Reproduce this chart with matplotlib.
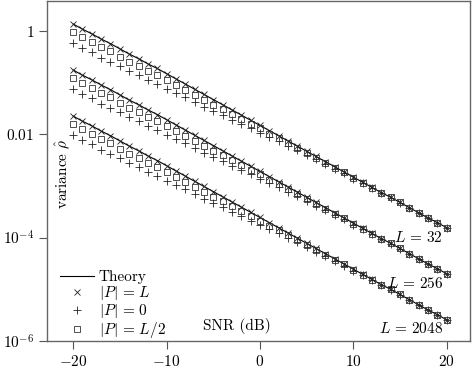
import matplotlib
matplotlib.use("Agg")
import matplotlib.pyplot as plt
import numpy as np
from matplotlib.ticker import FixedLocator, FixedFormatter, NullLocator

plt.rcParams['mathtext.fontset'] = 'cm'
plt.rcParams['font.family'] = ['cmr10', 'DejaVu Serif']
plt.rcParams['axes.formatter.use_mathtext'] = True

snr_db = list(range(-20, 21))

# log10 of variance, theory (x markers lie on the theory curves)
theory_32 = [0.13, 0.03, -0.06, -0.16, -0.25, -0.35, -0.45, -0.54, -0.64, -0.73, -0.83,
             -0.93, -1.03, -1.13, -1.23, -1.33, -1.43, -1.53, -1.63, -1.73, -1.83,
             -1.93, -2.03, -2.13, -2.23, -2.33, -2.43, -2.53, -2.63, -2.73, -2.83,
             -2.93, -3.03, -3.13, -3.22, -3.32, -3.42, -3.52, -3.62, -3.71, -3.81]
theory_256 = [-0.76, -0.86, -0.95, -1.05, -1.14, -1.24, -1.34, -1.43, -1.53, -1.62, -1.72,
              -1.82, -1.92, -2.02, -2.12, -2.22, -2.32, -2.42, -2.52, -2.62, -2.72,
              -2.82, -2.92, -3.02, -3.12, -3.22, -3.32, -3.42, -3.52, -3.62, -3.72,
              -3.82, -3.92, -4.02, -4.11, -4.21, -4.31, -4.41, -4.51, -4.60, -4.70]
theory_2048 = [-1.65, -1.75, -1.84, -1.94, -2.03, -2.13, -2.23, -2.32, -2.42, -2.51, -2.61,
               -2.71, -2.81, -2.91, -3.01, -3.11, -3.21, -3.31, -3.41, -3.51, -3.61,
               -3.71, -3.81, -3.91, -4.01, -4.11, -4.21, -4.31, -4.41, -4.51, -4.61,
               -4.71, -4.81, -4.91, -5.00, -5.10, -5.20, -5.30, -5.40, -5.49, -5.59]

# |P| = L  (x markers)
full_32 = theory_32
full_256 = theory_256
full_2048 = theory_2048

# |P| = 0  (+ markers)
zero_32 = [-0.24, -0.34, -0.42, -0.52, -0.60, -0.69, -0.78, -0.86, -0.95, -1.03, -1.12,
           -1.21, -1.29, -1.38, -1.47, -1.55, -1.63, -1.72, -1.80, -1.89, -1.97,
           -2.06, -2.14, -2.23, -2.31, -2.40, -2.49, -2.58, -2.67, -2.76, -2.86,
           -2.95, -3.05, -3.14, -3.23, -3.33, -3.42, -3.52, -3.62, -3.71, -3.81]
zero_256 = [-1.13, -1.23, -1.31, -1.41, -1.49, -1.58, -1.67, -1.75, -1.84, -1.92, -2.01,
            -2.10, -2.18, -2.27, -2.36, -2.44, -2.52, -2.61, -2.69, -2.78, -2.86,
            -2.95, -3.03, -3.12, -3.20, -3.29, -3.38, -3.47, -3.56, -3.65, -3.75,
            -3.84, -3.94, -4.03, -4.12, -4.22, -4.31, -4.41, -4.51, -4.60, -4.70]
zero_2048 = [-2.02, -2.12, -2.20, -2.30, -2.38, -2.47, -2.56, -2.64, -2.73, -2.81, -2.90,
             -2.99, -3.07, -3.16, -3.25, -3.33, -3.41, -3.50, -3.58, -3.67, -3.75,
             -3.84, -3.92, -4.01, -4.09, -4.18, -4.27, -4.36, -4.45, -4.54, -4.64,
             -4.73, -4.83, -4.92, -5.01, -5.11, -5.20, -5.30, -5.40, -5.49, -5.59]

# |P| = L/2  (square markers)
half_32 = [-0.03, -0.13, -0.22, -0.32, -0.40, -0.50, -0.60, -0.68, -0.78, -0.86, -0.96,
           -1.05, -1.15, -1.24, -1.33, -1.43, -1.52, -1.61, -1.71, -1.80, -1.89,
           -1.99, -2.08, -2.17, -2.27, -2.36, -2.46, -2.55, -2.65, -2.74, -2.84,
           -2.94, -3.04, -3.13, -3.22, -3.32, -3.42, -3.52, -3.62, -3.71, -3.81]
half_256 = [-0.92, -1.02, -1.11, -1.21, -1.29, -1.39, -1.49, -1.57, -1.67, -1.75, -1.85,
            -1.94, -2.04, -2.13, -2.22, -2.32, -2.41, -2.50, -2.60, -2.69, -2.78,
            -2.88, -2.97, -3.06, -3.16, -3.25, -3.35, -3.44, -3.54, -3.63, -3.73,
            -3.83, -3.93, -4.02, -4.11, -4.21, -4.31, -4.41, -4.51, -4.60, -4.70]
half_2048 = [-1.81, -1.91, -2.00, -2.10, -2.18, -2.28, -2.38, -2.46, -2.56, -2.64, -2.74,
             -2.83, -2.93, -3.02, -3.11, -3.21, -3.30, -3.39, -3.49, -3.58, -3.67,
             -3.77, -3.86, -3.95, -4.05, -4.14, -4.24, -4.33, -4.43, -4.52, -4.62,
             -4.72, -4.82, -4.91, -5.00, -5.10, -5.20, -5.30, -5.40, -5.49, -5.59]

curve_labels = [r'$L\,=\,32$', r'$L\,=\,256$', r'$L\,=\,2048$']
label_pos = [(19.6, -3.99), (19.6, -4.88), (19.6, -5.75)]
legend_labels = ['Theory', r'$|P|\,=\,L$', r'$|P|\,=\,0$', r'$|P|\,=\,L/2$']

y_ticks = [1e-6, 1e-4, 1e-2, 1]
y_tick_labels = [r'$10^{-6}$', r'$10^{-4}$', r'$0.01$', r'$1$']
x_ticks = [-20, -10, 0, 10, 20]
x_tick_labels = [r'$-20$', r'$-10$', r'$0$', r'$10$', r'$20$']

fig = plt.figure(figsize=(4.74, 3.67), dpi=100)
ax = fig.add_axes([47/474, 1 - 341/367, 423/474, 341/367 - 0.002])

x = np.array(snr_db)
groups = [(theory_32, full_32, zero_32, half_32),
          (theory_256, full_256, zero_256, half_256),
          (theory_2048, full_2048, zero_2048, half_2048)]
for i, (th, fu, ze, ha) in enumerate(groups):
    ax.plot(x, 10 ** np.array(th), color='k', lw=0.8, label=legend_labels[0] if i == 0 else None)
    ax.plot(x, 10 ** np.array(fu), ls='none', marker='x', ms=5, mew=0.6, color='#222222',
            label=legend_labels[1] if i == 0 else None)
    ax.plot(x, 10 ** np.array(ze), ls='none', marker='+', ms=6, mew=0.6, color='#222222',
            label=legend_labels[2] if i == 0 else None)
    ax.plot(x, 10 ** np.array(ha), ls='none', marker='s', ms=4.6, mew=0.6, mfc='none',
            color='#333333', mec='#333333', label=legend_labels[3] if i == 0 else None)

for lab, (lx, ly) in zip(curve_labels, label_pos):
    ax.text(lx, 10 ** ly, lab, ha='right', va='center', fontsize=11)

ax.set_yscale('log')
ax.set_xlim(-22.8, 22.5)
ax.set_ylim(1e-6, 10 ** 0.58)
ax.yaxis.set_major_locator(FixedLocator(y_ticks))
ax.yaxis.set_major_formatter(FixedFormatter(y_tick_labels))
ax.yaxis.set_minor_locator(NullLocator())
ax.xaxis.set_major_locator(FixedLocator(x_ticks))
ax.xaxis.set_major_formatter(FixedFormatter(x_tick_labels))
ax.tick_params(direction='out', length=6, width=0.8, color='#555555', labelsize=11, pad=3)

for s in ax.spines.values():
    s.set_color('#666666')
    s.set_linewidth(1.0)

ax.text(0.449, 0.044, 'SNR (dB)', transform=ax.transAxes, ha='center', va='center', fontsize=11)
ax.text(0.038, 0.49, r'variance $\hat{\rho}$', transform=ax.transAxes, ha='center', va='center',
        rotation=90, fontsize=11)

leg = ax.legend(loc='lower left', bbox_to_anchor=(0.01, -0.025), frameon=False, fontsize=11,
                handlelength=2.2, handletextpad=0.3, labelspacing=0.0, borderaxespad=0.2)

fig.savefig('out.png', dpi=100)
